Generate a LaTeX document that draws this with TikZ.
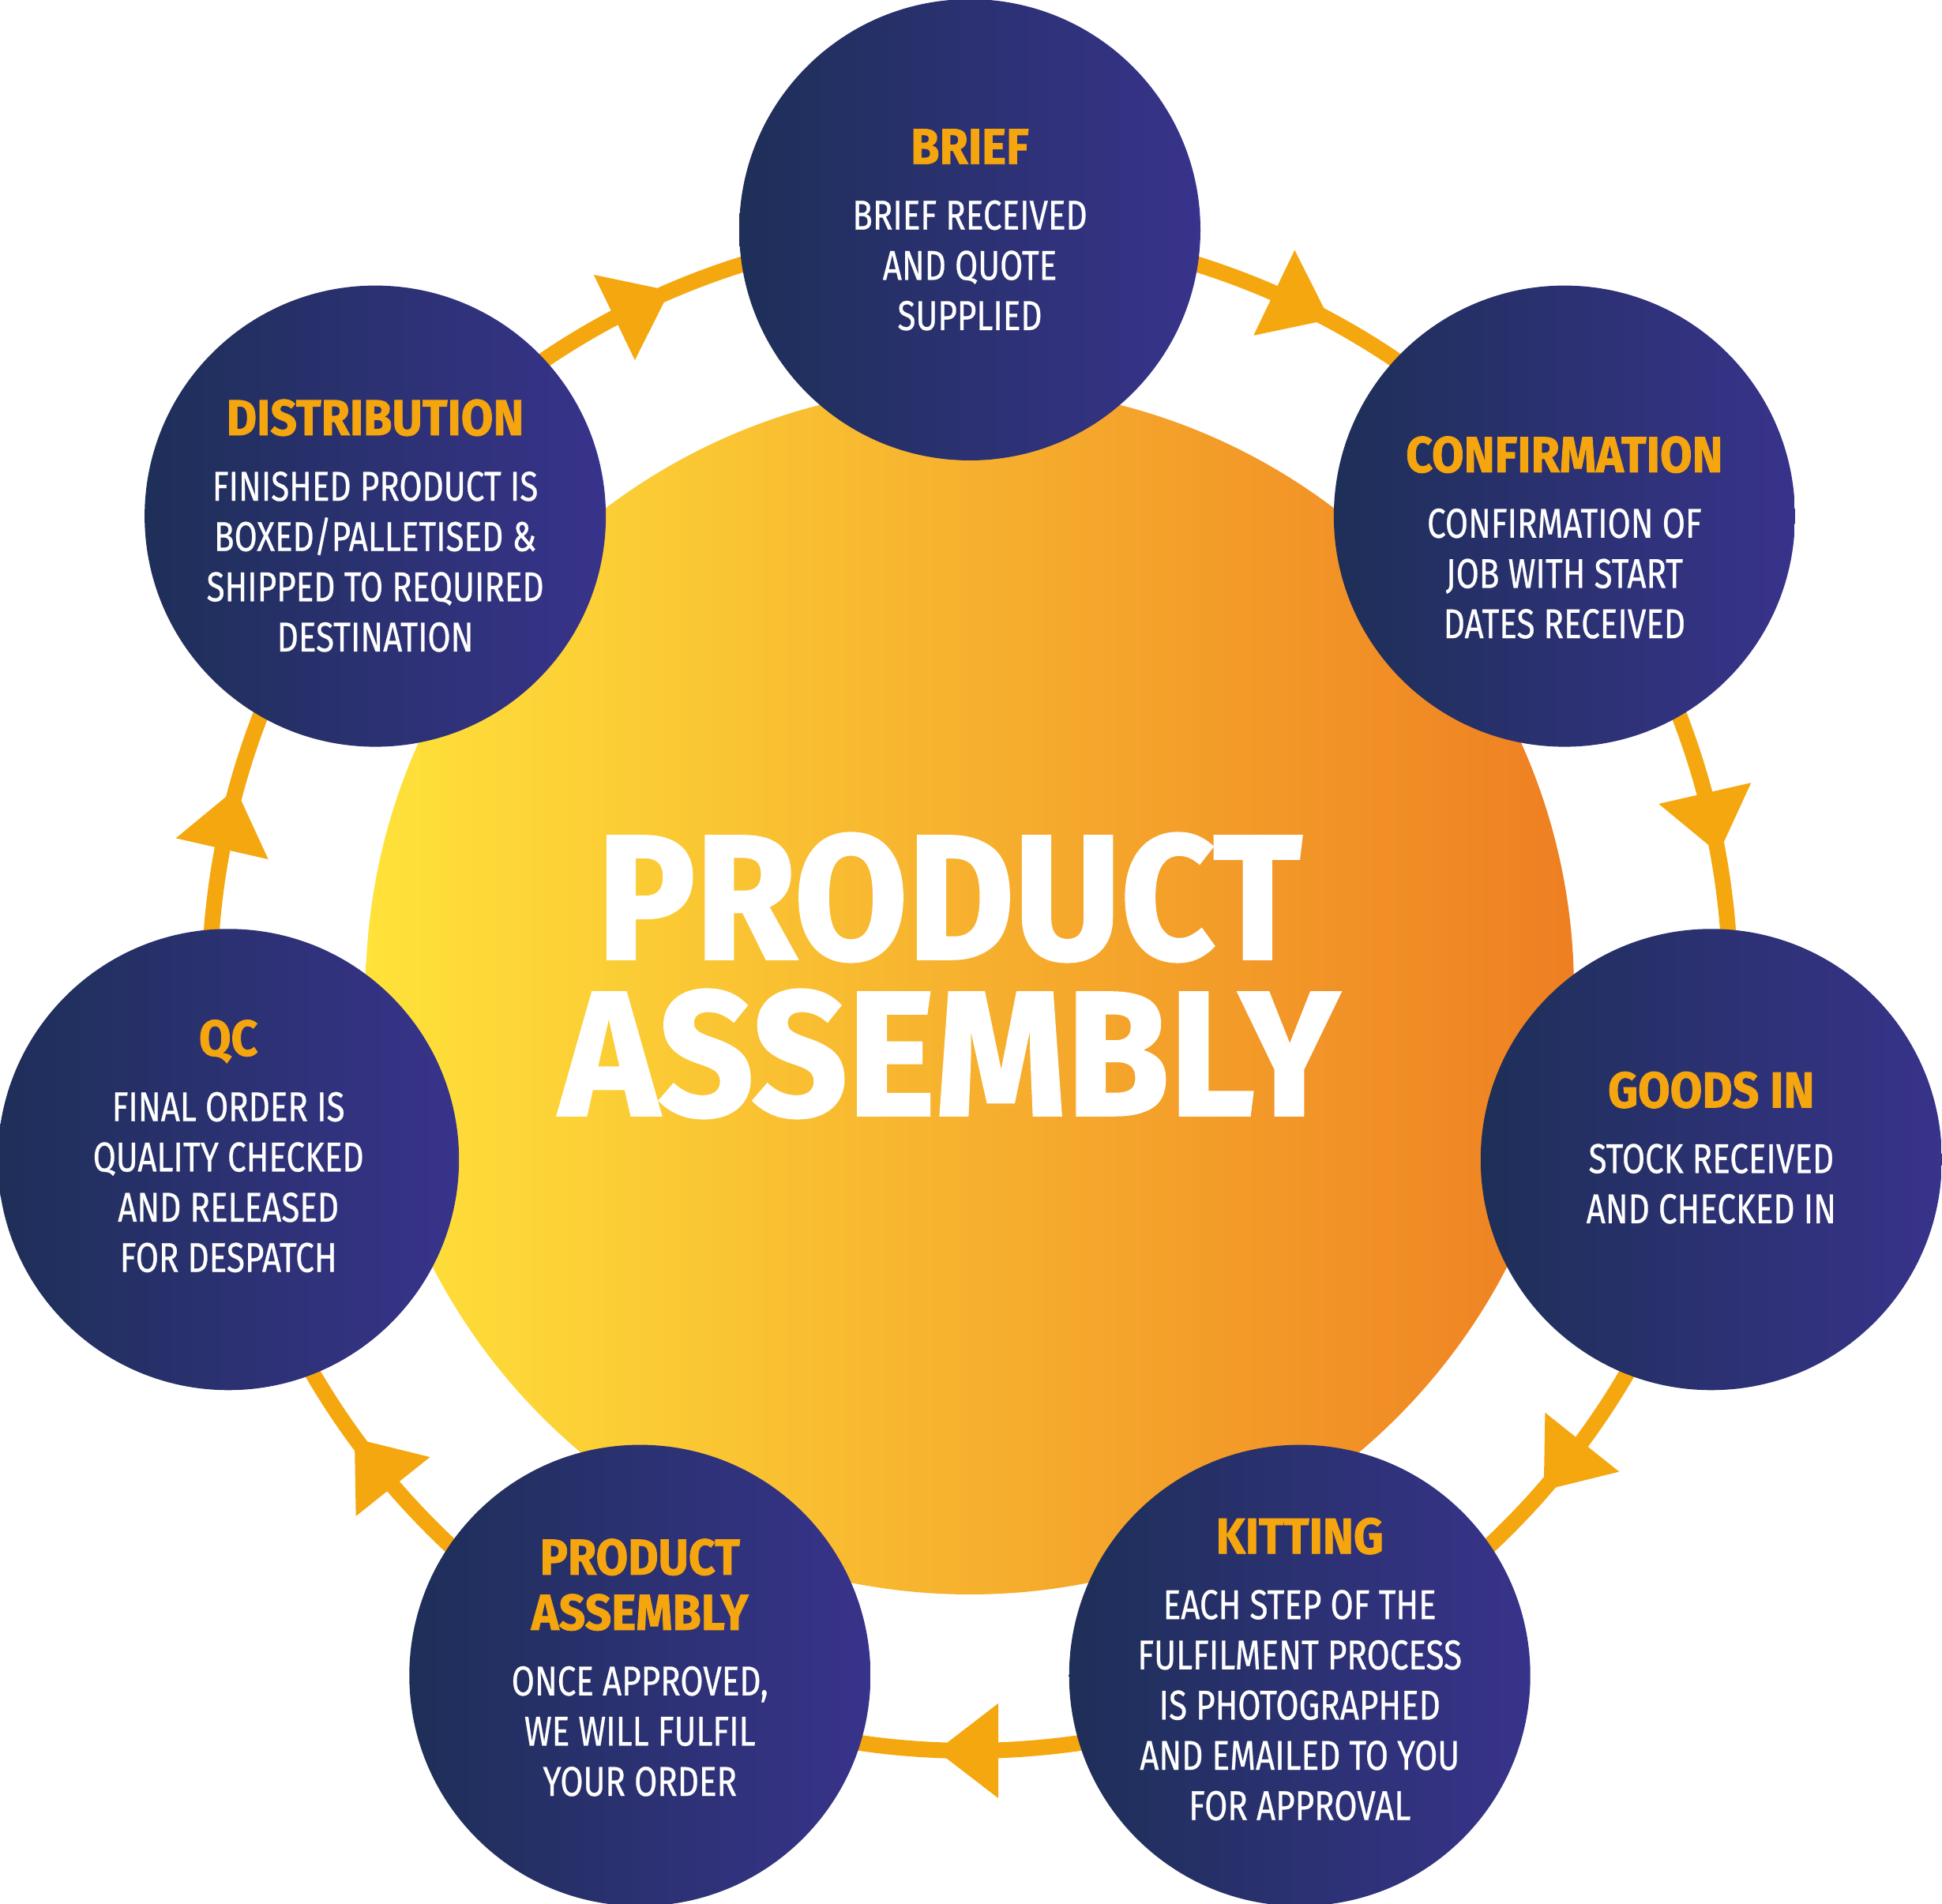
\documentclass[tikz,border=0pt]{standalone}
\usepackage{graphicx}
\usepackage{fontspec}
\setmainfont{Fira Sans}
\newfontfamily\bodyfont[FakeStretch=0.8, FakeBold=0.5]{Fira Sans}
\newfontfamily\headfont[FakeStretch=0.92, FakeBold=1.2]{Fira Sans}
\newfontfamily\bigfont[FakeBold=1.5]{Fira Sans}
\usetikzlibrary{calc}

\definecolor{navyL}{HTML}{1E2F58}
\definecolor{navyR}{HTML}{38338B}
\definecolor{sunL}{HTML}{FFE23A}
\definecolor{sunR}{HTML}{EE7F22}
\definecolor{ringorange}{HTML}{F5A70F}
\definecolor{headorange}{HTML}{F5A50E}

\tikzset{
  stepdot/.style={circle, minimum size=5.84cm, inner sep=0pt, left color=navyL, right color=navyR},
  steptext/.style={text=white, align=center, inner sep=0pt, font=\bodyfont\fontsize{15}{18.1}\selectfont},
  bigword/.style={text=white, align=center, inner sep=0pt, font=\bigfont\bfseries\fontsize{40pt}{1.98cm}\selectfont},
  ringline/.style={ringorange, line width=0.2cm},
  arrowtri/.style={fill=ringorange},
}
\newcommand{\stephead}[1]{{\headfont\bfseries\fontsize{18.2}{20}\selectfont\color{headorange}#1}}

\begin{document}
\begin{tikzpicture}
    \useasboundingbox (0,0) rectangle (24.59,24.11);
    \coordinate (O) at (12.28,11.57);
    % ring and arrow heads
    \draw[ringline] (O) circle (9.63);
    \foreach \a in {64.29,12.86,-38.57,-90,-141.43,167.14,115.71}
        {\fill[arrowtri, shift={(O)}, rotate=\a] (9.63,-0.42) -- (10.23,0.36) -- (9.03,0.36) -- cycle;}
    % centre disc
    \shade[left color=sunL, right color=sunR] (O) circle (7.65);
    \node[bigword] (bigtitle) at (12.02,11.755) {\resizebox{8.92cm}{1.59cm}{PRODUCT}\\ \resizebox{9.86cm}{1.59cm}{ASSEMBLY}};
    % step discs
    \foreach \n/\a in {brief/90, confirm/38.57, goods/-12.86, kitting/-64.29, assembly/-115.71, qc/-167.14, distrib/141.43}
        {\node[stepdot] (\n) at ($(O)+(\a:9.63)$) {};}
    \node[steptext] (brieftext) at (brief.center) {\stephead{BRIEF}\\[5.5pt] BRIEF RECEIVED\\ AND QUOTE\\ SUPPLIED};
    \node[steptext] (confirmtext) at ([yshift=-0.27cm]confirm.center) {\stephead{CONFIRMATION}\\[5.5pt] CONFIRMATION OF\\ JOB WITH START\\ DATES RECEIVED};
    \node[steptext] (goodstext) at ([yshift=0.15cm]goods.center) {\stephead{GOODS IN}\\[5.5pt] STOCK RECEIVED\\ AND CHECKED IN};
    \node[steptext] (kittingtext) at ([yshift=0.08cm]kitting.center) {\stephead{KITTING}\\[5.5pt] EACH STEP OF THE\\ FULFILMENT PROCESS\\ IS PHOTOGRAPHED\\ AND EMAILED TO YOU\\ FOR APPROVAL};
    \node[steptext] (assemblytext) at ([yshift=0.10cm]assembly.center) {\stephead{PRODUCT}\\[1.8pt] \stephead{ASSEMBLY}\\[5.5pt] ONCE APPROVED,\\ WE WILL FULFIL\\ YOUR ORDER};
    \node[steptext] (qctext) at ([yshift=0.17cm]qc.center) {\stephead{QC}\\[5.5pt] FINAL ORDER IS\\ QUALITY CHECKED\\ AND RELEASED\\ FOR DESPATCH};
    \node[steptext] (distribtext) at ([yshift=-0.12cm]distrib.center) {\stephead{DISTRIBUTION}\\[5.5pt] FINISHED PRODUCT IS\\ BOXED/PALLETISED \&\\ SHIPPED TO REQUIRED\\ DESTINATION};
\end{tikzpicture}
\end{document}
